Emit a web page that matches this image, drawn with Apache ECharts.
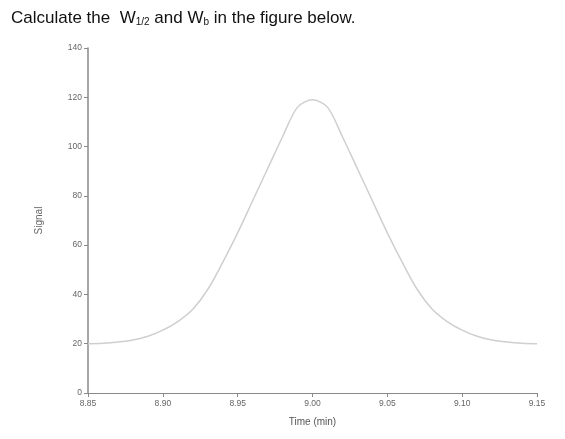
<!DOCTYPE html>
<html>
<head>
<meta charset="utf-8">
<script src="https://cdn.jsdelivr.net/npm/echarts@6/dist/echarts.min.js"></script>
<style>
  html, body { margin: 0; padding: 0; background: #fff; }
  #chart { width: 565px; height: 439px; }
</style>
</head>
<body>
<div id="chart"></div>
<script>
  // time (min) and signal values
  const times = [8.85, 8.86, 8.87, 8.88, 8.89, 8.90, 8.91, 8.92, 8.93, 8.94, 8.95, 8.96, 8.97, 8.98, 8.99,
    9.00, 9.01, 9.02, 9.03, 9.04, 9.05, 9.06, 9.07, 9.08, 9.09, 9.10, 9.11, 9.12, 9.13, 9.14, 9.15]
  const signal = [20, 20.2, 20.7, 21.5, 23, 25.5, 29, 34, 42, 53, 65, 78, 91, 104, 116,
    119, 116, 104, 91, 78, 65, 53, 42, 34, 29, 25.5, 23, 21.5, 20.7, 20.2, 20]
  const xTicks = [8.85, 8.90, 8.95, 9.00, 9.05, 9.10, 9.15]

  const chart = echarts.init(document.getElementById('chart'))
  const axisGray = '#8a8a8a'

  chart.setOption({
    animation: false,
    title: {
      text: 'Calculate the  W{s|1/2} and W{s|b} in the figure below.',
      left: 6,
      top: 4,
      textStyle: {
        fontFamily: 'Liberation Sans',
        fontSize: 17,
        fontWeight: 'normal',
        color: '#111',
        rich: {
          s: { fontSize: 10, verticalAlign: 'bottom', padding: [8, 0, 0, 0], color: '#111' }
        }
      }
    },
    grid: { left: 88, right: 28, top: 48, bottom: 46 },
    xAxis: {
      type: 'value',
      min: 8.85,
      max: 9.15,
      interval: 0.05,
      name: 'Time (min)',
      nameLocation: 'middle',
      nameGap: 24,
      nameTextStyle: { fontSize: 10, color: '#555', fontFamily: 'Liberation Sans' },
      axisLine: { lineStyle: { color: axisGray } },
      axisTick: { lineStyle: { color: axisGray }, length: 4 },
      splitLine: { show: false },
      axisLabel: {
        fontSize: 8.5,
        color: '#666',
        margin: 6,
        formatter: v => xTicks.find(t => Math.abs(t - v) < 1e-6).toFixed(2)
      }
    },
    yAxis: {
      type: 'value',
      min: 0,
      max: 140,
      interval: 20,
      name: 'Signal',
      nameLocation: 'middle',
      nameGap: 44,
      nameTextStyle: { fontSize: 10, color: '#666', fontFamily: 'Liberation Sans' },
      axisLine: { show: true, lineStyle: { color: axisGray, width: 1.5 } },
      axisTick: { show: true, lineStyle: { color: axisGray }, length: 4 },
      splitLine: { show: false },
      axisLabel: { fontSize: 8.5, color: '#666', margin: 6 }
    },
    series: [{
      type: 'line',
      data: times.map((t, i) => [t, signal[i]]),
      smooth: 0.3,
      showSymbol: false,
      lineStyle: { color: '#cfcfcf', width: 1.5 }
    }]
  })
</script>
</body>
</html>
